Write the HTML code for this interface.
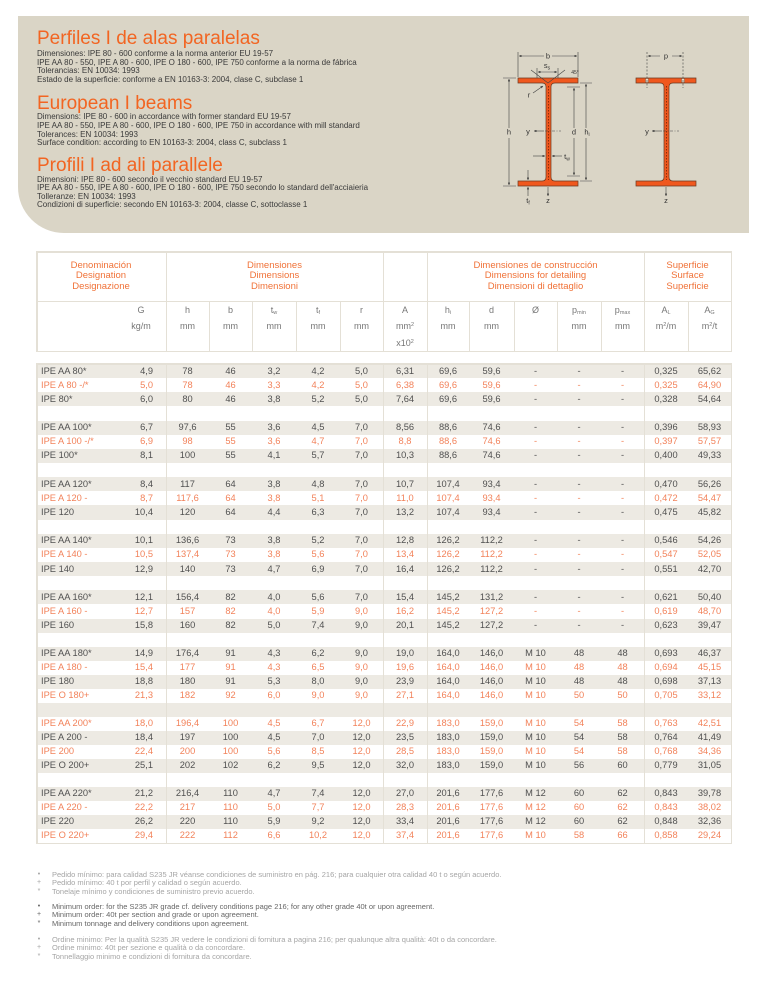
<!DOCTYPE html>
<html><head><meta charset="utf-8">
<style>
*{margin:0;padding:0;box-sizing:border-box}
body{width:768px;height:994px;position:relative;background:#fff;font-family:"Liberation Sans",sans-serif;overflow:hidden}
.abs{position:absolute}
.t{position:absolute;left:37px;color:#f26522;font-size:19px;line-height:19px;white-space:nowrap}
.p{position:absolute;left:37px;color:#3a3a3a;font-size:8px;line-height:8.6px;white-space:nowrap}
.hl{position:absolute;background:#e4e0d6}
.h1{position:absolute;top:260.75px;color:#f07238;font-size:9.5px;line-height:10.5px;text-align:center;white-space:nowrap}
.h2{position:absolute;top:301.75px;color:#777;font-size:9px;line-height:16.5px;text-align:center;white-space:nowrap}
sub{font-size:5.5px;vertical-align:-1px;line-height:0}
sup{font-size:5.5px;vertical-align:3px;line-height:0}
table{position:absolute;left:36px;top:364px;width:695px;table-layout:fixed;border-collapse:collapse;font-size:9.3px}
td{padding:0;line-height:13px;text-align:center;white-space:nowrap;overflow:visible}
tr{height:14.15px}
tr.s{height:14px}
tr.b{background:#edeae3;color:#505050}
tr.w{color:#f2825a}
td.n{text-align:left;padding-left:5px}
td.g{text-align:right;padding-right:13px}
.fn{position:absolute;left:52px;font-size:7.5px;line-height:8.7px;white-space:nowrap}
.fm{position:absolute;left:35px;width:8px;text-align:center;font-size:7px;line-height:8.7px}
</style></head><body>

<svg class="abs" style="left:0;top:0" width="768" height="240" viewBox="0 0 768 240">
<defs>
<marker id="a" viewBox="0 0 6 6" refX="6" refY="3" markerWidth="4" markerHeight="4" orient="auto-start-reverse"><path d="M0,0L6,3L0,6Z" fill="#333"/></marker>
</defs>
<path d="M18,16H749V233H64A46,46 0 0 1 18,187Z" fill="#dad5c6"/>
<path d="M518,78H578V83H555Q551,83 551,87V177Q551,181 555,181H578V186H518V181H542Q546,181 546,177V87Q546,83 542,83H518Z" fill="#f0581e" stroke="#6b3a22" stroke-width="0.7"/>
<path d="M548.5,86V180" stroke="#8a2c0a" stroke-width="1" stroke-dasharray="1.5,1.5"/>
<path d="M636,78H696V83H673Q669,83 669,87V177Q669,181 673,181H696V186H636V181H660Q664,181 664,177V87Q664,83 660,83H636Z" fill="#f0581e" stroke="#6b3a22" stroke-width="0.7"/>
<path d="M666.5,86V180" stroke="#8a2c0a" stroke-width="1" stroke-dasharray="1.5,1.5"/>
<rect x="645.5" y="78.5" width="3" height="4" fill="#e6dccb" stroke="#6b3a22" stroke-width="0.4"/>
<rect x="681.5" y="78.5" width="3" height="4" fill="#e6dccb" stroke="#6b3a22" stroke-width="0.4"/>
<g stroke="#444" stroke-width="0.6" fill="none">
 <path d="M518,52V77M578,52V77"/>
 <path d="M519,56H544M552,56H577" marker-start="url(#a)" marker-end="url(#a)"/>
 <path d="M537,68V78M558,68V78"/>
 <path d="M538,72H557" marker-start="url(#a)" marker-end="url(#a)"/>
 <path d="M531,70L548,83L565,70"/>
 <path d="M533,93L543,86" marker-end="url(#a)"/>
 <path d="M503,78H516M503,186H516"/>
 <path d="M509,79V128M509,138V185" marker-start="url(#a)" marker-end="url(#a)"/>
 <path d="M567,87H580M567,176H580"/>
 <path d="M574,88V128M574,138V175" marker-start="url(#a)" marker-end="url(#a)"/>
 <path d="M580,83H592M580,181H592"/>
 <path d="M586,84V128M586,138V180" marker-start="url(#a)" marker-end="url(#a)"/>
 <path d="M544,131H534" marker-end="url(#a)"/>
 <path d="M545,131H561" stroke-dasharray="3,1.5,1,1.5"/>
 <path d="M533,156H545" marker-end="url(#a)"/>
 <path d="M562,156H552" marker-end="url(#a)"/>
 <path d="M528,170V180" marker-end="url(#a)"/>
 <path d="M528,196V187" marker-end="url(#a)"/>
 <path d="M548,187V196" marker-end="url(#a)"/>
 <path d="M647,52V88M683,52V88" stroke-dasharray="2,1.5"/>
 <path d="M648,56H660M672,56H682" marker-start="url(#a)" marker-end="url(#a)"/>
 <path d="M662,131H652" marker-end="url(#a)"/>
 <path d="M663,131H679" stroke-dasharray="3,1.5,1,1.5"/>
 <path d="M666,187V196" marker-end="url(#a)"/>
</g>
<g font-family="Liberation Sans, sans-serif" font-size="7.5" fill="#333" text-anchor="middle">
 <text x="548" y="58.5">b</text>
 <text x="547" y="68">s<tspan font-size="5" dy="1.5">s</tspan></text>
 <text x="575" y="74" font-size="5">45°</text>
 <text x="529" y="97.5">r</text>
 <text x="509" y="134.5">h</text>
 <text x="574" y="134.5">d</text>
 <text x="587" y="134.5">h<tspan font-size="5" dy="1.5">i</tspan></text>
 <text x="528" y="134">y</text>
 <text x="567" y="159">t<tspan font-size="5" dy="1.5">w</tspan></text>
 <text x="528" y="203">t<tspan font-size="5" dy="1.5">f</tspan></text>
 <text x="548" y="203">z</text>
 <text x="666" y="58.5">p</text>
 <text x="647" y="134">y</text>
 <text x="666" y="203">z</text>
</g>
</svg>

<div class="t" style="top:29.4px">Perfiles I de alas paralelas</div>
<div class="p" style="top:50px">Dimensiones: IPE 80 - 600 conforme a la norma anterior EU 19-57<br>IPE AA 80 - 550, IPE A 80 - 600, IPE O 180 - 600, IPE 750 conforme a la norma de fábrica<br>Tolerancias: EN 10034: 1993<br>Estado de la superficie: conforme a EN 10163-3: 2004, clase C, subclase 1</div>
<div class="t" style="top:94px">European I beams</div>
<div class="p" style="top:113.4px">Dimensions: IPE 80 - 600 in accordance with former standard EU 19-57<br>IPE AA 80 - 550, IPE A 80 - 600, IPE O 180 - 600, IPE 750 in accordance with mill standard<br>Tolerances: EN 10034: 1993<br>Surface condition: according to EN 10163-3: 2004, class C, subclass 1</div>
<div class="t" style="top:156px">Profili I ad ali parallele</div>
<div class="p" style="top:175.7px">Dimensioni: IPE 80 - 600 secondo il vecchio standard EU 19-57<br>IPE AA 80 - 550, IPE A 80 - 600, IPE O 180 - 600, IPE 750 secondo lo standard dell'acciaieria<br>Tolleranze: EN 10034: 1993<br>Condizioni di superficie: secondo EN 10163-3: 2004, classe C, sottoclasse 1</div>

<div class="hl" style="left:36px;top:251px;width:696px;height:1.5px"></div>
<div class="hl" style="left:36px;top:300.5px;width:696px;height:1.5px"></div>
<div class="hl" style="left:36px;top:350.5px;width:696px;height:1.5px"></div>
<div class="hl" style="left:36px;top:251px;width:1.5px;height:101px"></div>
<div class="hl" style="left:730.5px;top:251px;width:1.5px;height:101px"></div>
<div class="hl" style="left:165.5px;top:251px;width:1.5px;height:101px"></div>
<div class="hl" style="left:382.5px;top:251px;width:1.5px;height:101px"></div>
<div class="hl" style="left:426.5px;top:251px;width:1.5px;height:101px"></div>
<div class="hl" style="left:643.5px;top:251px;width:1.5px;height:101px"></div>
<div class="hl" style="left:208.5px;top:301px;width:1.5px;height:51px"></div>
<div class="hl" style="left:251.5px;top:301px;width:1.5px;height:51px"></div>
<div class="hl" style="left:295.5px;top:301px;width:1.5px;height:51px"></div>
<div class="hl" style="left:339.5px;top:301px;width:1.5px;height:51px"></div>
<div class="hl" style="left:468.5px;top:301px;width:1.5px;height:51px"></div>
<div class="hl" style="left:513.5px;top:301px;width:1.5px;height:51px"></div>
<div class="hl" style="left:556.5px;top:301px;width:1.5px;height:51px"></div>
<div class="hl" style="left:600.5px;top:301px;width:1.5px;height:51px"></div>
<div class="hl" style="left:687.5px;top:301px;width:1.5px;height:51px"></div>

<div class="h1" style="left:36px;width:130px">Denominación<br>Designation<br>Designazione</div>
<div class="h1" style="left:166px;width:217px">Dimensiones<br>Dimensions<br>Dimensioni</div>
<div class="h1" style="left:427px;width:217px">Dimensiones de construcción<br>Dimensions for detailing<br>Dimensioni di dettaglio</div>
<div class="h1" style="left:644px;width:87px">Superficie<br>Surface<br>Superficie</div>

<div class="h2" style="left:120px;width:42px">G<br>kg/m</div>
<div class="h2" style="left:166px;width:43px">h<br>mm</div>
<div class="h2" style="left:209px;width:43px">b<br>mm</div>
<div class="h2" style="left:252px;width:44px">t<sub>w</sub><br>mm</div>
<div class="h2" style="left:296px;width:44px">t<sub>f</sub><br>mm</div>
<div class="h2" style="left:340px;width:43px">r<br>mm</div>
<div class="h2" style="left:383px;width:44px">A<br>mm<sup>2</sup><br>x10<sup>2</sup></div>
<div class="h2" style="left:427px;width:42px">h<sub>i</sub><br>mm</div>
<div class="h2" style="left:469px;width:45px">d<br>mm</div>
<div class="h2" style="left:514px;width:43px">Ø</div>
<div class="h2" style="left:557px;width:44px">p<sub>min</sub><br>mm</div>
<div class="h2" style="left:601px;width:43px">p<sub>max</sub><br>mm</div>
<div class="h2" style="left:644px;width:44px">A<sub>L</sub><br>m<sup>2</sup>/m</div>
<div class="h2" style="left:688px;width:43px">A<sub>G</sub><br>m<sup>2</sup>/t</div>

<table>
<colgroup><col style="width:84px"><col style="width:46px"><col style="width:43px"><col style="width:43px"><col style="width:44px"><col style="width:44px"><col style="width:43px"><col style="width:44px"><col style="width:42px"><col style="width:45px"><col style="width:43px"><col style="width:44px"><col style="width:43px"><col style="width:44px"><col style="width:43px"></colgroup>
<tr class="b"><td class="n">IPE AA 80*</td><td class="g">4,9</td><td>78</td><td>46</td><td>3,2</td><td>4,2</td><td>5,0</td><td>6,31</td><td>69,6</td><td>59,6</td><td>-</td><td>-</td><td>-</td><td>0,325</td><td>65,62</td></tr>
<tr class="w"><td class="n">IPE A 80 -/*</td><td class="g">5,0</td><td>78</td><td>46</td><td>3,3</td><td>4,2</td><td>5,0</td><td>6,38</td><td>69,6</td><td>59,6</td><td>-</td><td>-</td><td>-</td><td>0,325</td><td>64,90</td></tr>
<tr class="b"><td class="n">IPE 80*</td><td class="g">6,0</td><td>80</td><td>46</td><td>3,8</td><td>5,2</td><td>5,0</td><td>7,64</td><td>69,6</td><td>59,6</td><td>-</td><td>-</td><td>-</td><td>0,328</td><td>54,64</td></tr>
<tr class="w"><td colspan="15"></td></tr>
<tr class="b"><td class="n">IPE AA 100*</td><td class="g">6,7</td><td>97,6</td><td>55</td><td>3,6</td><td>4,5</td><td>7,0</td><td>8,56</td><td>88,6</td><td>74,6</td><td>-</td><td>-</td><td>-</td><td>0,396</td><td>58,93</td></tr>
<tr class="w"><td class="n">IPE A 100 -/*</td><td class="g">6,9</td><td>98</td><td>55</td><td>3,6</td><td>4,7</td><td>7,0</td><td>8,8</td><td>88,6</td><td>74,6</td><td>-</td><td>-</td><td>-</td><td>0,397</td><td>57,57</td></tr>
<tr class="b"><td class="n">IPE 100*</td><td class="g">8,1</td><td>100</td><td>55</td><td>4,1</td><td>5,7</td><td>7,0</td><td>10,3</td><td>88,6</td><td>74,6</td><td>-</td><td>-</td><td>-</td><td>0,400</td><td>49,33</td></tr>
<tr class="w"><td colspan="15"></td></tr>
<tr class="b"><td class="n">IPE AA 120*</td><td class="g">8,4</td><td>117</td><td>64</td><td>3,8</td><td>4,8</td><td>7,0</td><td>10,7</td><td>107,4</td><td>93,4</td><td>-</td><td>-</td><td>-</td><td>0,470</td><td>56,26</td></tr>
<tr class="w"><td class="n">IPE A 120 -</td><td class="g">8,7</td><td>117,6</td><td>64</td><td>3,8</td><td>5,1</td><td>7,0</td><td>11,0</td><td>107,4</td><td>93,4</td><td>-</td><td>-</td><td>-</td><td>0,472</td><td>54,47</td></tr>
<tr class="b"><td class="n">IPE 120</td><td class="g">10,4</td><td>120</td><td>64</td><td>4,4</td><td>6,3</td><td>7,0</td><td>13,2</td><td>107,4</td><td>93,4</td><td>-</td><td>-</td><td>-</td><td>0,475</td><td>45,82</td></tr>
<tr class="w"><td colspan="15"></td></tr>
<tr class="b"><td class="n">IPE AA 140*</td><td class="g">10,1</td><td>136,6</td><td>73</td><td>3,8</td><td>5,2</td><td>7,0</td><td>12,8</td><td>126,2</td><td>112,2</td><td>-</td><td>-</td><td>-</td><td>0,546</td><td>54,26</td></tr>
<tr class="w"><td class="n">IPE A 140 -</td><td class="g">10,5</td><td>137,4</td><td>73</td><td>3,8</td><td>5,6</td><td>7,0</td><td>13,4</td><td>126,2</td><td>112,2</td><td>-</td><td>-</td><td>-</td><td>0,547</td><td>52,05</td></tr>
<tr class="b"><td class="n">IPE 140</td><td class="g">12,9</td><td>140</td><td>73</td><td>4,7</td><td>6,9</td><td>7,0</td><td>16,4</td><td>126,2</td><td>112,2</td><td>-</td><td>-</td><td>-</td><td>0,551</td><td>42,70</td></tr>
<tr class="w"><td colspan="15"></td></tr>
<tr class="b"><td class="n">IPE AA 160*</td><td class="g">12,1</td><td>156,4</td><td>82</td><td>4,0</td><td>5,6</td><td>7,0</td><td>15,4</td><td>145,2</td><td>131,2</td><td>-</td><td>-</td><td>-</td><td>0,621</td><td>50,40</td></tr>
<tr class="w"><td class="n">IPE A 160 -</td><td class="g">12,7</td><td>157</td><td>82</td><td>4,0</td><td>5,9</td><td>9,0</td><td>16,2</td><td>145,2</td><td>127,2</td><td>-</td><td>-</td><td>-</td><td>0,619</td><td>48,70</td></tr>
<tr class="b"><td class="n">IPE 160</td><td class="g">15,8</td><td>160</td><td>82</td><td>5,0</td><td>7,4</td><td>9,0</td><td>20,1</td><td>145,2</td><td>127,2</td><td>-</td><td>-</td><td>-</td><td>0,623</td><td>39,47</td></tr>
<tr class="w"><td colspan="15"></td></tr>
<tr class="b s"><td class="n">IPE AA 180*</td><td class="g">14,9</td><td>176,4</td><td>91</td><td>4,3</td><td>6,2</td><td>9,0</td><td>19,0</td><td>164,0</td><td>146,0</td><td>M 10</td><td>48</td><td>48</td><td>0,693</td><td>46,37</td></tr>
<tr class="w s"><td class="n">IPE A 180 -</td><td class="g">15,4</td><td>177</td><td>91</td><td>4,3</td><td>6,5</td><td>9,0</td><td>19,6</td><td>164,0</td><td>146,0</td><td>M 10</td><td>48</td><td>48</td><td>0,694</td><td>45,15</td></tr>
<tr class="b s"><td class="n">IPE 180</td><td class="g">18,8</td><td>180</td><td>91</td><td>5,3</td><td>8,0</td><td>9,0</td><td>23,9</td><td>164,0</td><td>146,0</td><td>M 10</td><td>48</td><td>48</td><td>0,698</td><td>37,13</td></tr>
<tr class="w s"><td class="n">IPE O 180+</td><td class="g">21,3</td><td>182</td><td>92</td><td>6,0</td><td>9,0</td><td>9,0</td><td>27,1</td><td>164,0</td><td>146,0</td><td>M 10</td><td>50</td><td>50</td><td>0,705</td><td>33,12</td></tr>
<tr class="b s"><td colspan="15"></td></tr>
<tr class="w s"><td class="n">IPE AA 200*</td><td class="g">18,0</td><td>196,4</td><td>100</td><td>4,5</td><td>6,7</td><td>12,0</td><td>22,9</td><td>183,0</td><td>159,0</td><td>M 10</td><td>54</td><td>58</td><td>0,763</td><td>42,51</td></tr>
<tr class="b s"><td class="n">IPE A 200 -</td><td class="g">18,4</td><td>197</td><td>100</td><td>4,5</td><td>7,0</td><td>12,0</td><td>23,5</td><td>183,0</td><td>159,0</td><td>M 10</td><td>54</td><td>58</td><td>0,764</td><td>41,49</td></tr>
<tr class="w s"><td class="n">IPE 200</td><td class="g">22,4</td><td>200</td><td>100</td><td>5,6</td><td>8,5</td><td>12,0</td><td>28,5</td><td>183,0</td><td>159,0</td><td>M 10</td><td>54</td><td>58</td><td>0,768</td><td>34,36</td></tr>
<tr class="b s"><td class="n">IPE O 200+</td><td class="g">25,1</td><td>202</td><td>102</td><td>6,2</td><td>9,5</td><td>12,0</td><td>32,0</td><td>183,0</td><td>159,0</td><td>M 10</td><td>56</td><td>60</td><td>0,779</td><td>31,05</td></tr>
<tr class="w s"><td colspan="15"></td></tr>
<tr class="b s"><td class="n">IPE AA 220*</td><td class="g">21,2</td><td>216,4</td><td>110</td><td>4,7</td><td>7,4</td><td>12,0</td><td>27,0</td><td>201,6</td><td>177,6</td><td>M 12</td><td>60</td><td>62</td><td>0,843</td><td>39,78</td></tr>
<tr class="w s"><td class="n">IPE A 220 -</td><td class="g">22,2</td><td>217</td><td>110</td><td>5,0</td><td>7,7</td><td>12,0</td><td>28,3</td><td>201,6</td><td>177,6</td><td>M 12</td><td>60</td><td>62</td><td>0,843</td><td>38,02</td></tr>
<tr class="b s"><td class="n">IPE 220</td><td class="g">26,2</td><td>220</td><td>110</td><td>5,9</td><td>9,2</td><td>12,0</td><td>33,4</td><td>201,6</td><td>177,6</td><td>M 12</td><td>60</td><td>62</td><td>0,848</td><td>32,36</td></tr>
<tr class="w s"><td class="n">IPE O 220+</td><td class="g">29,4</td><td>222</td><td>112</td><td>6,6</td><td>10,2</td><td>12,0</td><td>37,4</td><td>201,6</td><td>177,6</td><td>M 10</td><td>58</td><td>66</td><td>0,858</td><td>29,24</td></tr>
</table>

<div class="hl" style="left:36px;top:363px;width:696px;height:1.5px"></div>
<div class="hl" style="left:36px;top:842.5px;width:696px;height:1.5px"></div>
<div class="hl" style="left:36px;top:363px;width:1.5px;height:481px"></div>
<div class="hl" style="left:165.5px;top:363px;width:1.5px;height:481px"></div>
<div class="hl" style="left:382.5px;top:363px;width:1.5px;height:481px"></div>
<div class="hl" style="left:426.5px;top:363px;width:1.5px;height:481px"></div>
<div class="hl" style="left:643.5px;top:363px;width:1.5px;height:481px"></div>
<div class="hl" style="left:730.5px;top:363px;width:1.5px;height:481px"></div>

<div class="fm" style="top:870.6px;color:#a5a5a5">•<br>+<br>*</div>
<div class="fn" style="top:870.6px;color:#a5a5a5">Pedido mínimo: para calidad S235 JR véanse condiciones de suministro en pág. 216; para cualquier otra calidad 40 t o según acuerdo.<br>Pedido mínimo: 40 t por perfil y calidad o según acuerdo.<br>Tonelaje mínimo y condiciones de suministro previo acuerdo.</div>
<div class="fm" style="top:902.6px;color:#666">•<br>+<br>*</div>
<div class="fn" style="top:902.6px;color:#666">Minimum order: for the S235 JR grade cf. delivery conditions page 216; for any other grade 40t or upon agreement.<br>Minimum order: 40t per section and grade or upon agreement.<br>Minimum tonnage and delivery conditions upon agreement.</div>
<div class="fm" style="top:935.6px;color:#a5a5a5">•<br>+<br>*</div>
<div class="fn" style="top:935.6px;color:#a5a5a5">Ordine minimo: Per la qualità S235 JR vedere le condizioni di fornitura a pagina 216; per qualunque altra qualità: 40t o da concordare.<br>Ordine minimo: 40t per sezione e qualità o da concordare.<br>Tonnellaggio minimo e condizioni di fornitura da concordare.</div>

</body></html>
